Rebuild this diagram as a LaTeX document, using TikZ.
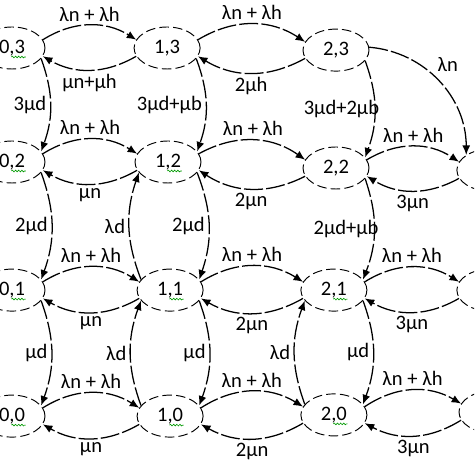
\documentclass[tikz,border=0pt]{standalone}
\usepackage{fontspec}
\setmainfont{Carlito}
\usetikzlibrary{arrows.meta, shapes, calc}
\usetikzlibrary{decorations.pathmorphing}

\begin{document}
\begin{tikzpicture}[font=\fontsize{19.5}{22}\selectfont]
 \tikzstyle{snode}=[ellipse, draw, dash pattern=on 9pt off 4pt, line width=0.9pt, minimum width=2.2cm, minimum height=1.4cm, inner sep=0pt]
 \tikzstyle{line}=[draw, -{Latex[length=9pt,width=7.5pt]}, line width=1.2pt, dash pattern=on 18pt off 3pt]
 \tikzstyle{squig}=[draw=green!60!black, decorate, decoration={snake, amplitude=0.8pt, segment length=3pt}, line width=0.6pt]

 \useasboundingbox (0,0) rectangle (15.8,15.8);
 \clip (0,0) rectangle (15.8,15.8);

 % states
 \draw (0.40, 14.20) node[snode] (s03) {0,3};
 \draw (5.57, 14.20) node[snode] (s13) {1,3};
 \draw (11.20, 14.13) node[snode] (s23) {2,3};

 \draw (0.40, 10.40) node[snode] (s02) {0,2};
 \draw (5.60, 10.40) node[snode] (s12) {1,2};
 \draw (11.20, 10.20) node[snode] (s22) {2,2};
 \draw (16.33, 10.13) node[snode] (s32) {};

 \draw (0.40, 6.13) node[snode] (s01) {0,1};
 \draw (5.67, 6.13) node[snode] (s11) {1,1};
 \draw (11.13, 6.13) node[snode] (s21) {2,1};
 \draw (16.33, 6.13) node[snode] (s31) {};

 \draw (0.40, 1.93) node[snode] (s00) {0,0};
 \draw (5.67, 1.93) node[snode] (s10) {1,0};
 \draw (11.13, 1.97) node[snode] (s20) {2,0};
 \draw (16.40, 2.07) node[snode] (s30) {};

 \foreach \n in {s03,s02,s12,s01,s11,s21,s00,s10,s20}
   \draw[squig] ($(\n.center)+(-0.02,-0.3)$) -- ++(0.48,0);

 % row 3
 \path [line] (s03.15) to[bend left=32] node[above]{λn + λh} (s13.165);
 \path [line] (s13.195) to[bend left=30] node[below]{μn+μh} (s03.345);
 \path [line] (s13.15) to[bend left=32] node[above]{λn + λh} (s23.165);
 \path [line] (s23.195) to[bend left=30] node[below]{2μh} (s13.345);
 \path [line] (s23.5) to[out=-5, in=90] node[pos=0.45, anchor=south west]{λn} (s32.north west);

 % row 2
 \path [line] (s02.15) to[bend left=32] node[above]{λn + λh} (s12.165);
 \path [line] (s12.195) to[bend left=30] node[below]{μn} (s02.345);
 \path [line] (s12.15) to[bend left=32] node[above]{λn + λh} (s22.165);
 \path [line] (s22.195) to[bend left=30] node[below]{2μn} (s12.345);
 \path [line] (s22.15) to[bend left=32] node[above]{λn + λh} (s32.165);
 \path [line] (s32.195) to[bend left=30] node[below]{3μn} (s22.345);

 % row 1
 \path [line] (s01.15) to[bend left=32] node[above]{λn + λh} (s11.165);
 \path [line] (s11.195) to[bend left=30] node[below]{μn} (s01.345);
 \path [line] (s11.15) to[bend left=32] node[above]{λn + λh} (s21.165);
 \path [line] (s21.195) to[bend left=30] node[below]{2μn} (s11.345);
 \path [line] (s21.15) to[bend left=32] node[above]{λn + λh} (s31.165);
 \path [line] (s31.195) to[bend left=30] node[below]{3μn} (s21.345);

 % row 0
 \path [line] (s00.15) to[bend left=32] node[above]{λn + λh} (s10.165);
 \path [line] (s10.195) to[bend left=30] node[below]{μn} (s00.345);
 \path [line] (s10.15) to[bend left=32] node[above]{λn + λh} (s20.165);
 \path [line] (s20.195) to[bend left=30] node[below]{2μn} (s10.345);
 \path [line] (s20.15) to[bend left=32] node[above]{λn + λh} (s30.165);
 \path [line] (s30.195) to[bend left=30] node[below]{3μn} (s20.345);

 % downward
 \path [line] (s03.-20) to[bend left=20] node[left]{3μd} (s02.20);
 \path [line] (s02.-20) to[bend left=20] node[left]{2μd} (s01.20);
 \path [line] (s01.-20) to[bend left=20] node[left]{μd} (s00.20);
 \path [line] (s13.-20) to[bend left=20] node[left]{3μd+μb} (s12.20);
 \path [line] (s12.-20) to[bend left=20] node[left]{2μd} (s11.20);
 \path [line] (s11.-20) to[bend left=20] node[left]{μd} (s10.20);
 \path [line] (s23.-20) to[bend left=20] node[left, xshift=8pt]{3μd+2μb} (s22.20);
 \path [line] (s22.-20) to[bend left=20] node[left, xshift=8pt]{2μd+μb} (s21.20);
 \path [line] (s21.-20) to[bend left=20] node[left]{μd} (s20.20);

 % upward
 \path [line] (s10.160) to[bend left=20] node[left]{λd} (s11.200);
 \path [line] (s11.160) to[bend left=20] node[left]{λd} (s12.200);
 \path [line] (s20.160) to[bend left=20] node[left]{λd} (s21.200);
\end{tikzpicture}
\end{document}
